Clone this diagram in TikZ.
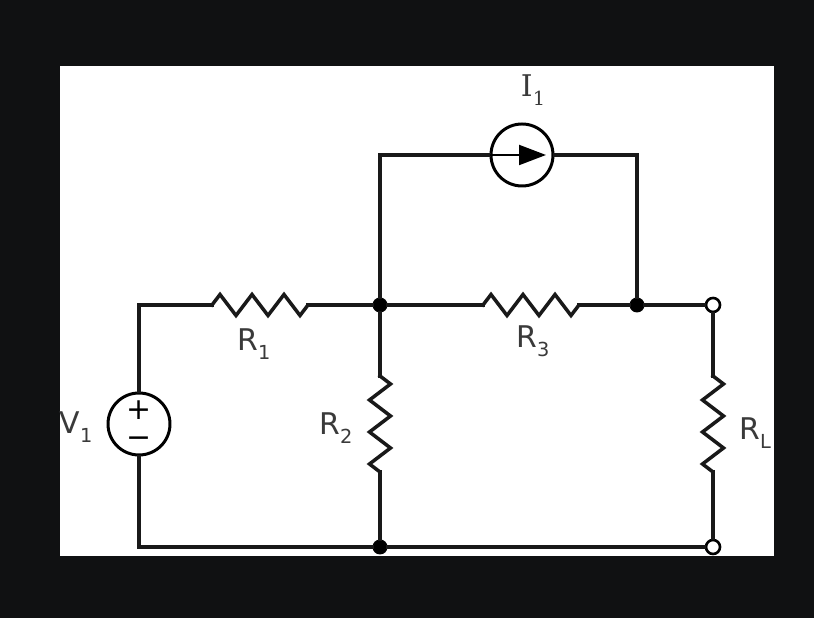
\documentclass[tikz,border=0pt]{standalone}
\usepackage{fontspec}
\setmainfont{DejaVu Sans}
\newfontfamily\slabfont{DejaVu Serif}
\usetikzlibrary{arrows.meta,decorations.pathmorphing}

\newcommand{\lbl}[2]{#1\raisebox{-0.55ex}{\fontsize{11}{11}\selectfont #2}}
\definecolor{framecol}{HTML}{101112}
\definecolor{textcol}{HTML}{3A3A3A}

\tikzset{
    wire/.style={line width=2pt, black!90, line cap=rect},
    zig/.style={wire, decorate, decoration={zigzag, amplitude=0.21cm, segment length=0.64cm}},
    dot/.style={circle, fill=black, inner sep=0, minimum size=0.3cm},
    port/.style={circle, draw=black, fill=white, line width=1.5pt, inner sep=0, minimum size=0.28cm},
    source/.style={circle, draw=black, line width=1.7pt, inner sep=0, minimum size=1.24cm},
    sign/.style={font=\fontsize{17}{17}\selectfont, text=black, inner sep=0},
    label/.style={text=textcol, font=\fontsize{17}{17}\selectfont, inner sep=0}
}

\begin{document}
\begin{tikzpicture}
    \useasboundingbox (0, 0) rectangle (16.28, 12.36);
    \fill[framecol] (0, 0) rectangle (16.28, 12.36);
    \fill[white] (1.2, 1.24) rectangle (15.48, 11.04);

    \node[source] (V) at (2.78, 3.88) {};
    \node[source] (I) at (10.44, 9.26) {};
    \node[dot] (a) at (7.6, 6.26) {};
    \node[dot] (b) at (12.74, 6.26) {};
    \node[dot] (c) at (7.6, 1.42) {};
    \node[port] (p) at (14.26, 6.26) {};
    \node[port] (q) at (14.26, 1.42) {};

    \coordinate (tl) at (2.78, 6.26);
    \coordinate (bl) at (2.78, 1.42);
    \coordinate (ta) at (7.6, 9.26);
    \coordinate (tb) at (12.74, 9.26);
    \coordinate (tip) at (10.92, 9.26);
    \coordinate (r1a) at (4.24, 6.26);
    \coordinate (r1b) at (6.16, 6.26);
    \coordinate (r3a) at (9.66, 6.26);
    \coordinate (r3b) at (11.58, 6.26);
    \coordinate (r2a) at (7.6, 4.84);
    \coordinate (r2b) at (7.6, 2.92);
    \coordinate (rla) at (14.26, 4.84);
    \coordinate (rlb) at (14.26, 2.92);

    \draw[wire] (V) -- (tl) -- (r1a);
    \draw[zig] (r1a) -- (r1b);
    \draw[wire] (r1b) -- (a);
    \draw[wire] (a) -- (r3a);
    \draw[zig] (r3a) -- (r3b);
    \draw[wire] (r3b) -- (b);
    \draw[wire] (b) -- (p);
    \draw[wire] (a) -- (r2a);
    \draw[zig] (r2a) -- (r2b);
    \draw[wire] (r2b) -- (c);
    \draw[wire] (p) -- (rla);
    \draw[zig] (rla) -- (rlb);
    \draw[wire] (rlb) -- (q);
    \draw[wire] (V) -- (bl) -- (c);
    \draw[wire] (c) -- (q);
    \draw[wire] (a) -- (ta) -- (I.west);
    \draw[wire] (I) -- (tb) -- (b);
    \draw[line width=1.2pt, -{Triangle[length=0.54cm, width=0.4cm]}] (I.west) -- (tip);

    \node[sign] (plus) at (2.78, 4.16) {+};
    \node[sign] (minus) at (2.78, 3.52) {−};

    \node[label] (R1) at (5.08, 5.48) {\lbl{R}{1}};
    \node[label] (R2) at (6.72, 3.8) {\lbl{R}{2}};
    \node[label] (R3) at (10.66, 5.54) {\lbl{R}{3}};
    \node[label] (RL) at (15.1, 3.7) {\lbl{R}{L}};
    \node[label] (V1) at (1.52, 3.82) {\lbl{V}{1}};
    \node[label] (I1) at (10.66, 10.56) {\lbl{\slabfont I}{1}};
\end{tikzpicture}
\end{document}
